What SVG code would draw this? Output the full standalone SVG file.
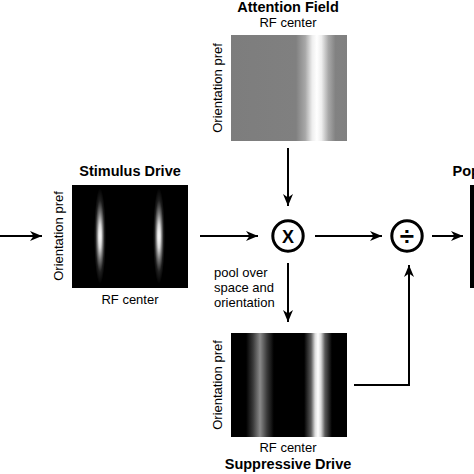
<svg xmlns="http://www.w3.org/2000/svg" width="474" height="474" viewBox="0 0 474 474">
<style>
  .title{font-family:"Liberation Sans",Arial,sans-serif;font-weight:bold;font-size:14.5px;fill:#000;text-anchor:middle}
  .lab{font-family:"Liberation Sans",Arial,sans-serif;font-size:13px;fill:#000;text-anchor:middle}
  .note{font-family:"Liberation Sans",Arial,sans-serif;font-size:13px;fill:#000}
  .op{font-family:"Liberation Sans",Arial,sans-serif;font-weight:bold;fill:#000;text-anchor:middle}
  .conn{fill:none;stroke:#000;stroke-width:2;marker-end:url(#arr)}
  .ring{fill:#fff;stroke:#000;stroke-width:3}
</style>
<defs>
  <marker id="arr" markerUnits="userSpaceOnUse" markerWidth="14" markerHeight="12" viewBox="-12 -6 14 12" refX="0" refY="0" orient="auto">
    <path d="M0,0 L-12,-5 L-8.5,0 L-12,5 Z" fill="#000"/>
  </marker>
  <radialGradient id="blob" cx="0.5" cy="0.5" r="0.5">
    <stop offset="0" stop-color="#fff" stop-opacity="1"/>
    <stop offset="0.25" stop-color="#fff" stop-opacity="0.85"/>
    <stop offset="0.5" stop-color="#fff" stop-opacity="0.45"/>
    <stop offset="0.75" stop-color="#fff" stop-opacity="0.12"/>
    <stop offset="1" stop-color="#fff" stop-opacity="0"/>
  </radialGradient>
  <linearGradient id="attn" x1="0" y1="0" x2="1" y2="0">
    <stop offset="0" stop-color="#7d7d7d"/>
    <stop offset="0.56" stop-color="#808080"/>
    <stop offset="0.64" stop-color="#a8a8a8"/>
    <stop offset="0.70" stop-color="#eeeeee"/>
    <stop offset="0.74" stop-color="#ffffff"/>
    <stop offset="0.78" stop-color="#eeeeee"/>
    <stop offset="0.84" stop-color="#a8a8a8"/>
    <stop offset="0.90" stop-color="#828282"/>
    <stop offset="1" stop-color="#808080"/>
  </linearGradient>
  <linearGradient id="supp" x1="0" y1="0" x2="1" y2="0">
    <stop offset="0" stop-color="#000"/>
    <stop offset="0.13" stop-color="#000"/>
    <stop offset="0.19" stop-color="#3a3a3a"/>
    <stop offset="0.25" stop-color="#8a8a8a"/>
    <stop offset="0.31" stop-color="#3a3a3a"/>
    <stop offset="0.37" stop-color="#000"/>
    <stop offset="0.63" stop-color="#000"/>
    <stop offset="0.69" stop-color="#5a5a5a"/>
    <stop offset="0.725" stop-color="#dcdcdc"/>
    <stop offset="0.75" stop-color="#fff"/>
    <stop offset="0.775" stop-color="#dcdcdc"/>
    <stop offset="0.81" stop-color="#5a5a5a"/>
    <stop offset="0.87" stop-color="#000"/>
    <stop offset="1" stop-color="#000"/>
  </linearGradient>
</defs>
<rect width="474" height="474" fill="#fff"/>

<g id="connectors">
  <path class="conn" d="M0,236 H42"/>
  <path class="conn" d="M200,236 H258"/>
  <path class="conn" d="M288,148 V206"/>
  <path class="conn" d="M315,236 H382"/>
  <path class="conn" d="M432,236 H463"/>
  <path class="conn" d="M288,263 V322"/>
  <path class="conn" d="M354,385 H409 V265"/>
</g>

<g id="attention-field">
  <text class="title" x="288" y="11.5">Attention Field</text>
  <text class="lab" x="288" y="27">RF center</text>
  <rect x="231" y="35" width="116" height="106" fill="url(#attn)"/>
  <text class="lab" transform="translate(222,88) rotate(-90)">Orientation pref</text>
</g>

<g id="stimulus-drive">
  <text class="title" x="130" y="176">Stimulus Drive</text>
  <rect x="72" y="185" width="116" height="103" fill="#000"/>
  <ellipse cx="100" cy="236" rx="6" ry="48" fill="url(#blob)"/>
  <ellipse cx="159" cy="236" rx="6" ry="48" fill="url(#blob)"/>
  <text class="lab" x="130" y="304">RF center</text>
  <text class="lab" transform="translate(63,236) rotate(-90)">Orientation pref</text>
</g>

<g id="multiply">
  <circle class="ring" cx="288" cy="236" r="15.2"/>
  <text class="op" x="288" y="242.5" font-size="18">X</text>
</g>

<g id="divide">
  <circle class="ring" cx="407" cy="236" r="15.2"/>
  <text class="op" x="407" y="245" font-size="26">÷</text>
</g>

<g id="pool-label">
  <text class="note" x="214" y="277">pool over</text>
  <text class="note" x="214" y="292">space and</text>
  <text class="note" x="214" y="307">orientation</text>
</g>

<g id="suppressive-drive">
  <rect x="231" y="333" width="116" height="104" fill="url(#supp)"/>
  <text class="lab" transform="translate(222,385) rotate(-90)">Orientation pref</text>
  <text class="lab" x="288" y="452">RF center</text>
  <text class="title" x="288" y="469">Suppressive Drive</text>
</g>

<g id="population">
  <text class="title" x="452.5" y="176" style="text-anchor:start">Pop</text>
  <rect x="470" y="185" width="10" height="103" fill="#000"/>
</g>
</svg>
